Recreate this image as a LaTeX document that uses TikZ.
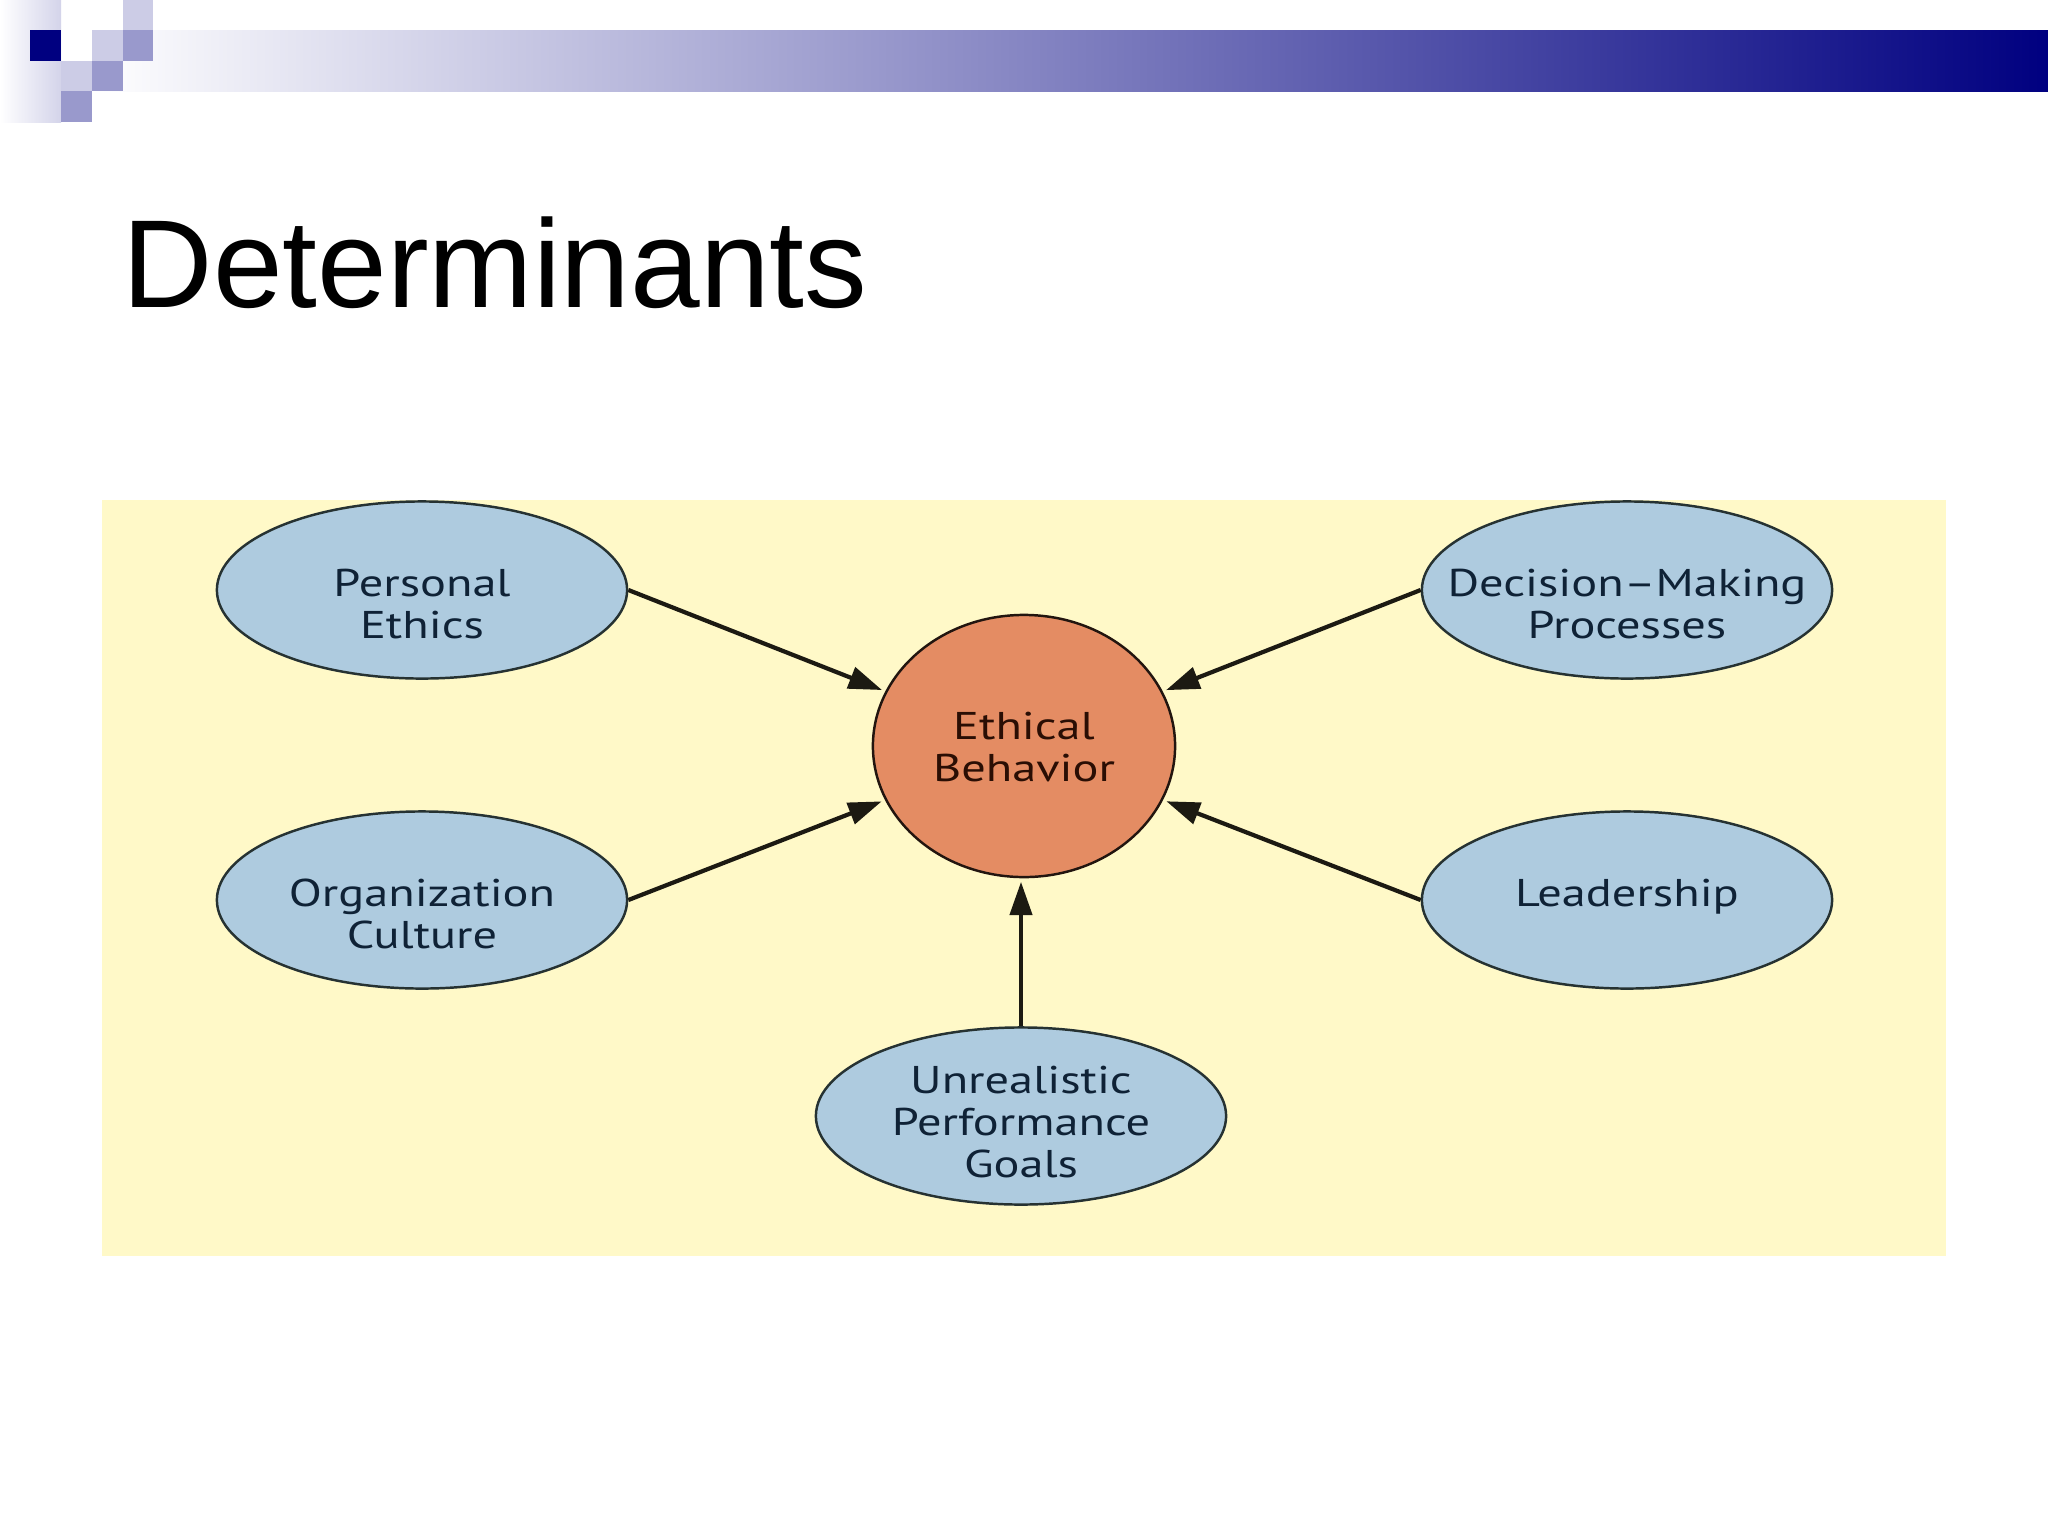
\documentclass[tikz,border=0pt]{standalone}
\usepackage{fontspec}
\setmainfont{Liberation Sans}
\newfontfamily\diag[FakeStretch=1.25]{PT Sans}
\usetikzlibrary{shapes.geometric,arrows.meta}
\definecolor{navyc}{HTML}{000080}
\definecolor{lavL}{HTML}{CCCCE6}
\definecolor{lavM}{HTML}{9999CC}
\definecolor{panel}{HTML}{FFF9C8}
\definecolor{blueE}{HTML}{AECBDF}
\definecolor{orangeE}{HTML}{E48C63}
\definecolor{txtB}{HTML}{0F2236}
\definecolor{txtO}{HTML}{2A0E04}
\definecolor{edge}{HTML}{263232}
\definecolor{arrc}{HTML}{1C1A12}
\tikzset{
  oval/.style={ellipse, draw=edge, line width=0.7pt, fill=blueE, inner sep=0pt,
    minimum width=4.1cm, minimum height=1.77cm},
  hub/.style={ellipse, draw=black!85!orangeE, line width=0.7pt, fill=orangeE, inner sep=0pt,
    minimum width=3.02cm, minimum height=2.62cm},
  lbl/.style={font=\diag\fontsize{11pt}{12pt}\selectfont, align=center, text=txtB, inner sep=0pt},
  arr/.style={line width=1.2pt, draw=arrc, -{Triangle[length=9.5pt,width=6.3pt]}, shorten >=1pt}
}
\begin{document}
\begin{tikzpicture}[x=0.01cm,y=-0.01cm]
\useasboundingbox (0,0) rectangle (2048,1536);
\fill[white] (0,0) rectangle (2048,1536);
% header decoration
\shade[left color=white, right color=lavL!85] (0,0) rectangle (61,122);
\shade[left color=white, right color=navyc] (92,30) rectangle (2048,91);
\fill[navyc] (30,30) rectangle (61,61);
\fill[lavL] (92,30) rectangle (123,61);
\fill[lavM] (123,30) rectangle (153,61);
\fill[lavL] (123,0) rectangle (153,30);
\fill[lavL] (61,61) rectangle (92,91);
\fill[lavM] (92,61) rectangle (123,91);
\fill[lavM] (61,91) rectangle (92,122);
% title
\node[anchor=base west, inner sep=0pt, font=\fontsize{35.6pt}{40pt}\selectfont] (title) at (122,307) {Determinants};
% panel
\fill[panel] (102,500) rectangle (1946,1256);
% ellipses
\node[oval] (pe) at (422,590) {};
\node[oval] (dm) at (1627,590) {};
\node[oval] (oc) at (422,900) {};
\node[oval] (ld) at (1627,900) {};
\node[oval] (ug) at (1021,1116) {};
\node[hub] (eb) at (1024,746) {};
% texts
\node[lbl] (pet) at (422,604) {Personal\\Ethics};
\node[lbl] (dmt) at (1627,604) {Decision–Making\\Processes};
\node[lbl] (oct) at (422,914) {Organization\\Culture};
\node[lbl] (ldt) at (1627,897) {Leadership};
\node[lbl] (ugt) at (1021,1122) {Unrealistic\\Performance\\Goals};
\node[lbl, text=txtO] (ebt) at (1024,747) {Ethical\\Behavior};
% arrows
\draw[arr] (pe.east) -- (eb);
\draw[arr] (dm.west) -- (eb);
\draw[arr] (oc.east) -- (eb);
\draw[arr] (ld.west) -- (eb);
\draw[arr] (ug.north) -- (ug.north |- eb.south);
\end{tikzpicture}
\end{document}
